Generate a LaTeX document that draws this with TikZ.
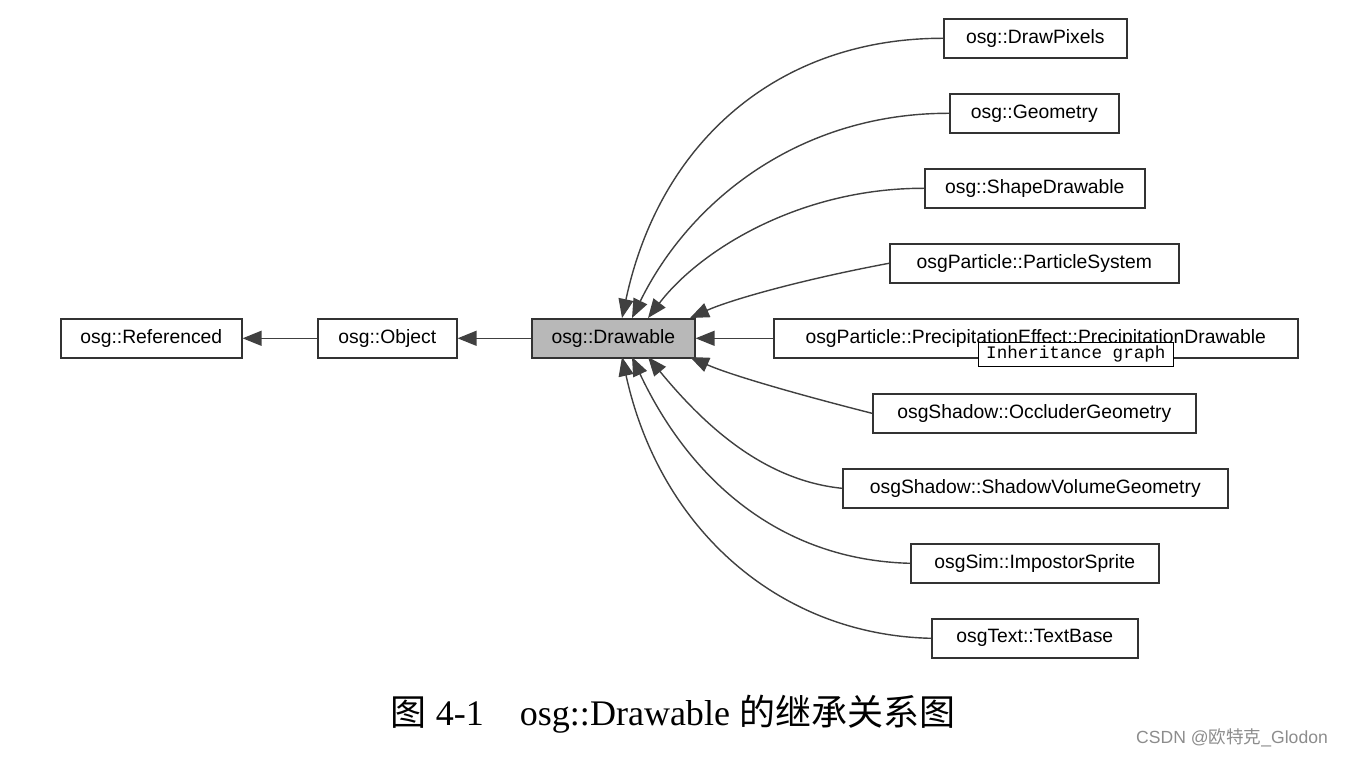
\documentclass[tikz,border=0pt]{standalone}
\usepackage{fontspec}
\setmainfont{Liberation Sans}
\newfontfamily\capfont{Liberation Serif}
\newfontfamily\cjk{Noto Sans CJK SC}
\newfontfamily\monof{Liberation Mono}
\usetikzlibrary{arrows.meta}
\begin{document}
\begin{tikzpicture}[x=0.02cm,y=-0.02cm,
  cls/.style={draw=black!80,line width=0.9pt,fill=white,font=\fontsize{11}{13}\selectfont,inner sep=0pt,anchor=north west},
  inh/.style={draw=black!75,line width=0.8pt,-{Triangle[length=0.38cm,width=0.3cm]}}]
\useasboundingbox (0,0) rectangle (1348,757);
\newcommand\cbox[6]{\node[cls,minimum width={(#4-#2)*0.02cm},minimum height={(#5-#3)*0.02cm},#6] (#1) at (#2,#3) {};}
\cbox{ref}{60}{318}{241}{357}{}
\cbox{obj}{317}{318}{456}{357}{}
\cbox{drw}{531}{318}{694}{357}{fill=black!28}
\cbox{dp}{943}{18}{1126}{57}{}
\cbox{geo}{949}{93}{1118}{132}{}
\cbox{sd}{924}{168}{1144}{207}{}
\cbox{ps}{889}{243}{1178}{282}{}
\cbox{pd}{773}{318}{1297}{357}{}
\cbox{og}{872}{393}{1195}{432}{}
\cbox{sv}{842}{468}{1227}{507}{}
\cbox{is}{910}{543}{1158}{582}{}
\cbox{tb}{931}{618}{1137}{657}{}
\foreach \n/\t in {ref/osg::Referenced,obj/osg::Object,drw/osg::Drawable,dp/osg::DrawPixels,geo/osg::Geometry,sd/osg::ShapeDrawable,ps/osgParticle::ParticleSystem,pd/osgParticle::PrecipitationEffect::PrecipitationDrawable,og/osgShadow::OccluderGeometry,sv/osgShadow::ShadowVolumeGeometry,is/osgSim::ImpostorSprite,tb/osgText::TextBase}
  \node[font=\fontsize{11}{13}\selectfont] (\n t) at (\n.center) {\t};
\coordinate (e1) at (622,318);
\coordinate (e2) at (632,318);
\coordinate (e3) at (648,318);
\coordinate (e4) at (690,318);
\coordinate (e6) at (690,357);
\coordinate (e7) at (648,357);
\coordinate (e8) at (632,357);
\coordinate (e9) at (622,357);
\draw[inh] (obj.west) -- (ref.east);
\draw[inh] (drw.west) -- (obj.east);
\draw[inh] (dp.west) .. controls (780,38) and (660,140) .. (e1);
\draw[inh] (geo.west) .. controls (800,113) and (690,200) .. (e2);
\draw[inh] (sd.west) .. controls (800,188) and (700,250) .. (e3);
\draw[inh] (ps.west) .. controls (800,280) and (730,300) .. (e4);
\draw[inh] (pd.west) -- (drw.east);
\draw[inh] (og.west) .. controls (800,395) and (730,375) .. (e6);
\draw[inh] (sv.west) .. controls (760,480) and (700,420) .. (e7);
\draw[inh] (is.west) .. controls (780,560) and (690,480) .. (e8);
\draw[inh] (tb.west) .. controls (780,635) and (660,530) .. (e9);
\node[draw=black,fill=white,inner sep=0pt,minimum width=3.9cm,minimum height=0.48cm,font=\monof\fontsize{10}{12}\selectfont,anchor=north west] (tip) at (978,342) {Inheritance graph};
\node[font=\fontsize{20.5}{24}\selectfont] (cap) at (673,714) {{\cjk 图}\capfont\ 4-1\quad osg::Drawable {\cjk 的继承关系图}};
\node[font=\fontsize{10}{12}\selectfont,text=black!45] (wm) at (1232,738) {CSDN @{\cjk 欧特克}\_Glodon};
\end{tikzpicture}
\end{document}
